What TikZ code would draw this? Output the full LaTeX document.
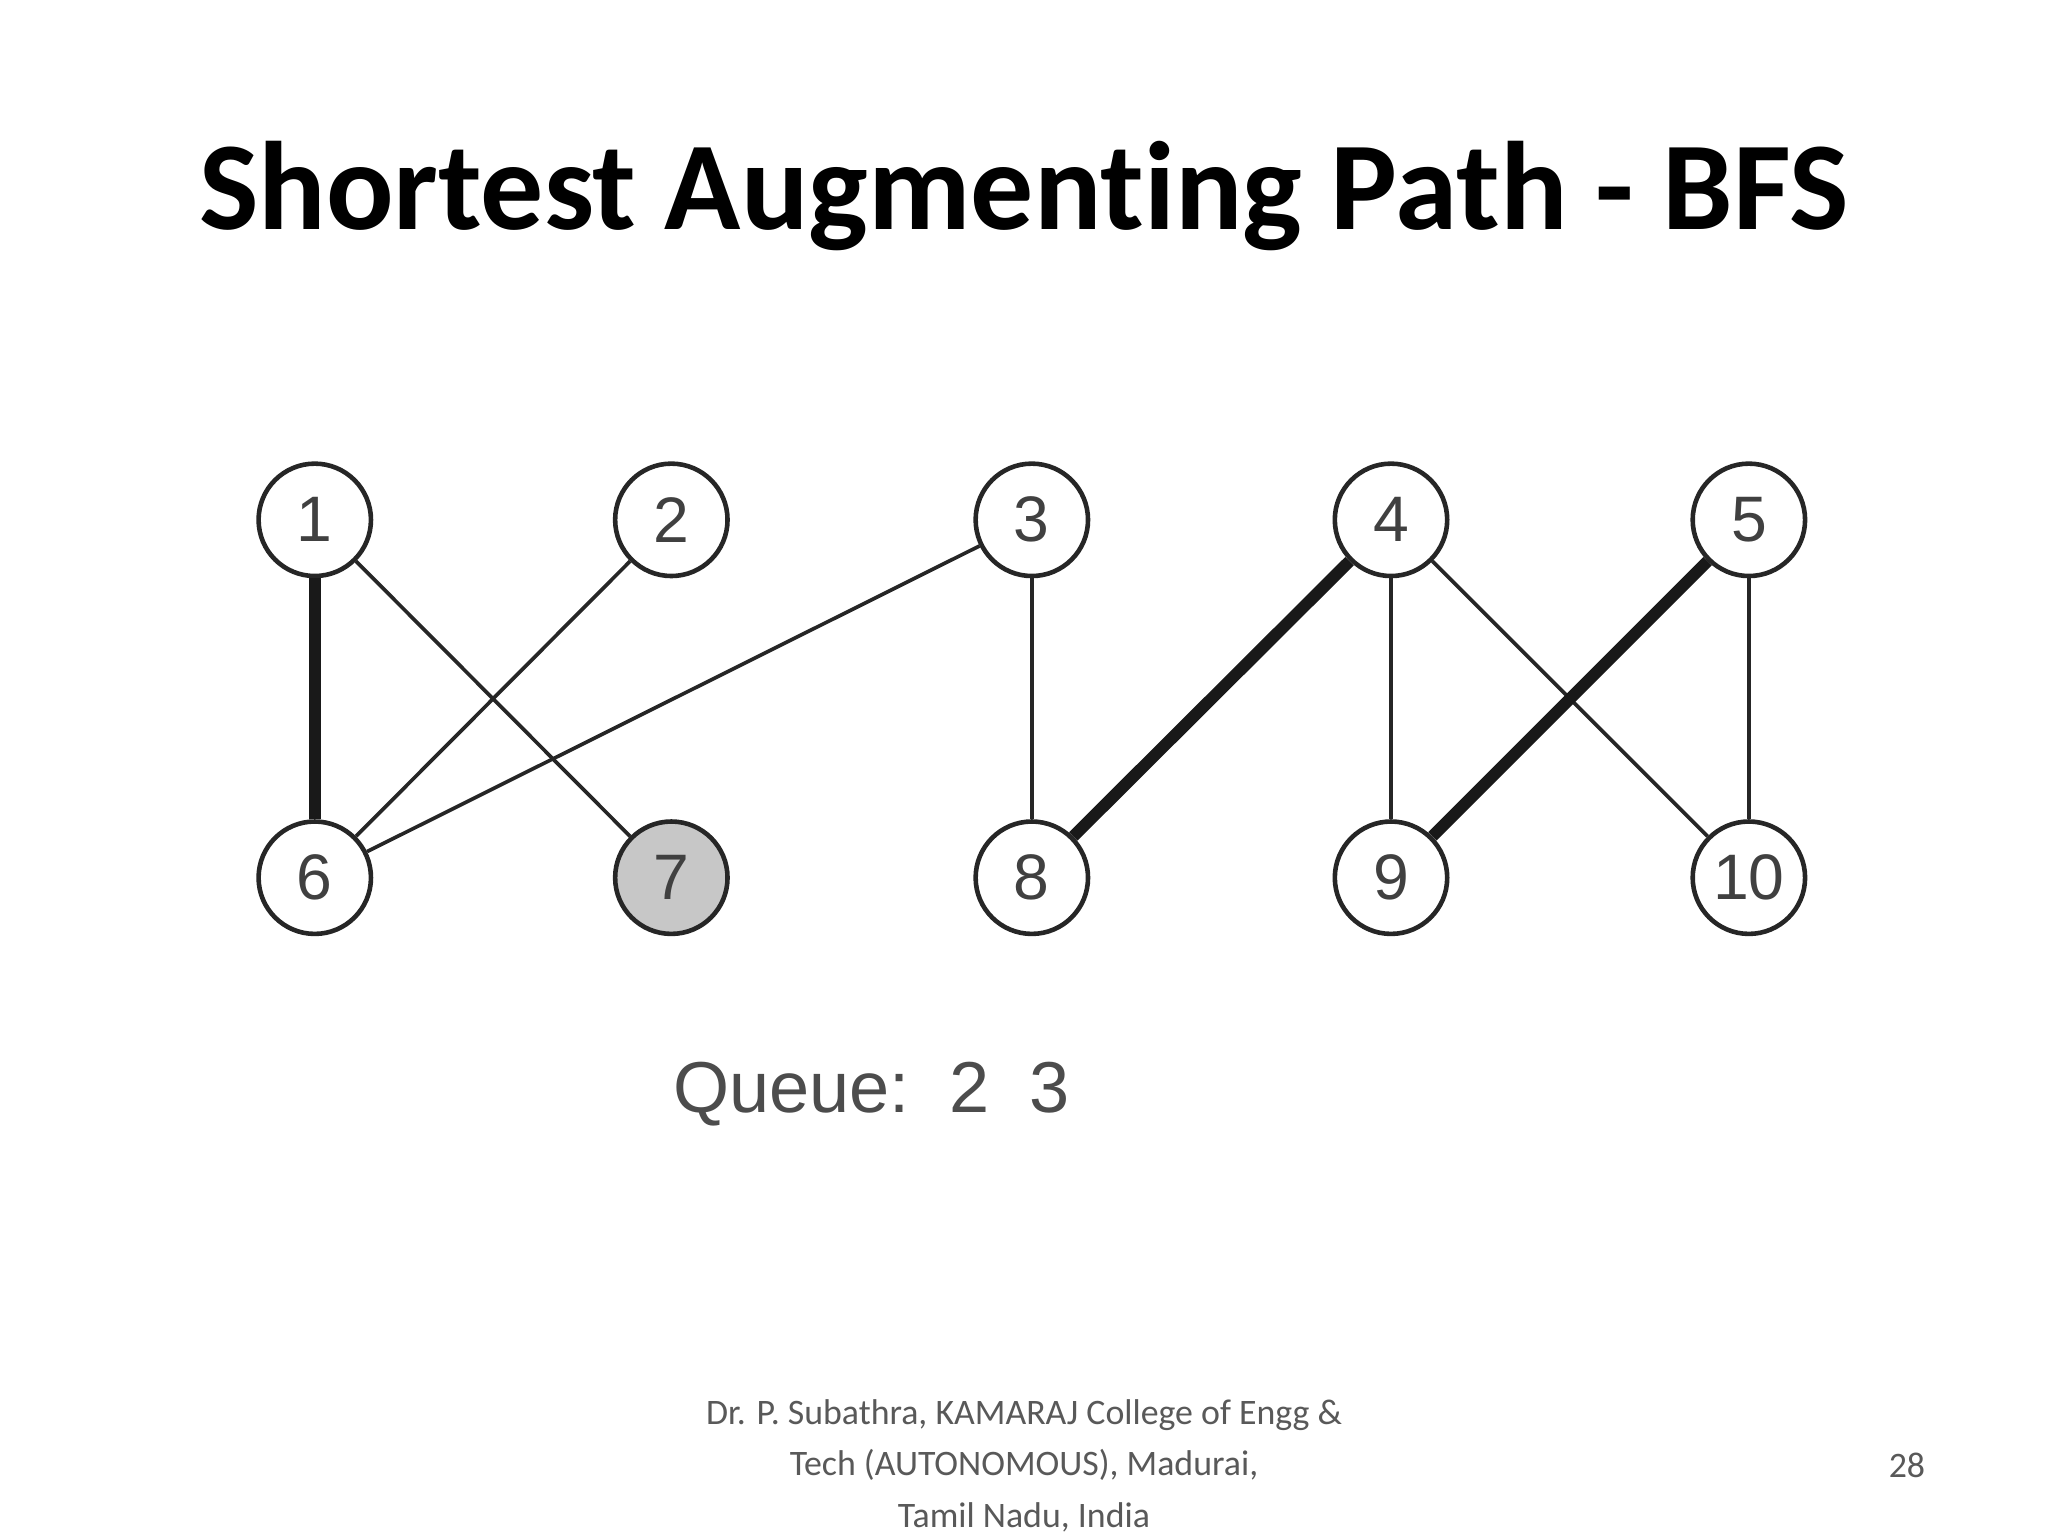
\documentclass[tikz,border=0pt]{standalone}
\usepackage{fontspec}
\setmainfont{Carlito}[Ligatures=NoCommon]
\newfontfamily\arialf{Liberation Sans}
\begin{document}
\begin{tikzpicture}[x=0.01cm,y=-0.01cm,
  vert/.style={circle,draw=black!85,line width=1pt,minimum size=0.86cm,inner sep=0pt,fill=white,font=\arialf\fontsize{14}{14}\selectfont,text=black!75},
  thin/.style={line width=0.8pt,black!85},
  thick/.style={line width=2.6pt,black!90}]
\useasboundingbox (0,0) rectangle (1568,1176);
\fill[white] (0,0) rectangle (1568,1176);
\node (title) at (784,150) {\fontsize{27.4}{32}\selectfont\bfseries Shortest Augmenting Path - BFS};
\foreach \n/\x in {1/241,2/514,3/790,4/1065,5/1339} \node[vert] (v\n) at (\x,398) {\n};
\foreach \n/\x in {6/241,8/790,9/1065,10/1339} \node[vert] (v\n) at (\x,672) {\n};
\node[vert,fill=black!22] (v7) at (514,672) {7};
\draw[thick] (v1) -- (v6);
\draw[thin] (v1) -- (v7);
\draw[thin] (v2) -- (v6);
\draw[thin] (v3) -- (v6);
\draw[thin] (v3) -- (v8);
\draw[thick] (v4) -- (v8);
\draw[thin] (v4) -- (v9);
\draw[thin] (v4) -- (v10);
\draw[thick] (v5) -- (v9);
\draw[thin] (v5) -- (v10);
\node[anchor=west,text=black!70,font=\arialf\fontsize{15.7}{16}\selectfont] (queue) at (503,838) {Queue:\ \ 2\ \ 3};
\node[align=center,text=black!65,font=\fontsize{7.8}{11.2}\selectfont] (foot) at (784,1122) {Dr. P. Subathra, KAMARAJ College of Engg \&\\Tech (AUTONOMOUS), Madurai,\\Tamil Nadu, India};
\node[text=black!65,font=\fontsize{7.8}{10}\selectfont] (pg) at (1460,1122) {28};
\end{tikzpicture}
\end{document}
